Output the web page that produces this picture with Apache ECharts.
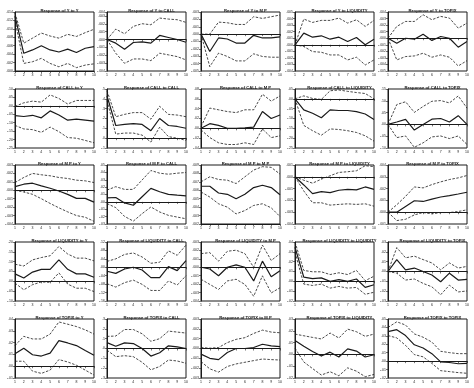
<!DOCTYPE html>
<html><head><meta charset="utf-8">
<script src="https://cdn.jsdelivr.net/npm/echarts@6/dist/echarts.min.js"></script>
<style>html,body{margin:0;padding:0;background:#fff}#c{width:474px;height:388px}</style>
</head><body><div id="c"></div>
<script>
const periods = ['1','2','3','4','5','6','7','8','9','10'];
const varNames = ['Y','CALL','M P','LIQUIDITY','TOPIX'];
const varKeys = ['Y','CALL','MP','LIQ','TOPIX'];

// Y responses
const resp_Y_Y = [0.0130,0.0042,0.0050,0.0060,0.0050,0.0045,0.0052,0.0044,0.0054,0.0058];
const up_Y_Y   = [0.0138,0.0066,0.0078,0.0090,0.0083,0.0078,0.0087,0.0082,0.0091,0.0099];
const lo_Y_Y   = [0.0120,0.0018,0.0022,0.0030,0.0018,0.0010,0.0018,0.0008,0.0014,0.0017];
const resp_Y_CALL = [0,-0.00046,-0.00123,-0.00038,-0.00029,-0.00046,0.00052,0.00026,0,-0.00034];
const up_Y_CALL   = [0,0.00133,0.00073,0.00167,0.00201,0.00188,0.00273,0.00260,0.00252,0.00218];
const lo_Y_CALL   = [0,-0.00174,-0.00302,-0.00247,-0.00247,-0.00268,-0.00174,-0.00195,-0.00217,-0.00259];
const resp_Y_MP = [0,-0.00235,-0.00052,-0.00066,-0.00121,-0.00121,-0.00016,-0.00052,-0.00052,-0.00038];
const up_Y_MP   = [0,0,0.00163,0.00154,0.00131,0.00131,0.00236,0.00213,0.00236,0.00259];
const lo_Y_MP   = [0,-0.00441,-0.00258,-0.00303,-0.00363,-0.00363,-0.00267,-0.00303,-0.00313,-0.00313];
const resp_Y_LIQ = [0,0.00178,0.00116,0.00137,0.00085,0.00116,0.00050,0.00111,0,0.00085];
const up_Y_LIQ   = [0,0.00392,0.00341,0.00372,0.00372,0.00407,0.00331,0.00382,0.00280,0.00372];
const lo_Y_LIQ   = [0,-0.00027,-0.00104,-0.00114,-0.00155,-0.00155,-0.00231,-0.00190,-0.00308,-0.00231];
const resp_Y_TOPIX = [0,-0.00076,0,-0.00015,0.00062,-0.00035,0.00026,0,-0.00137,-0.00050];
const up_Y_TOPIX   = [0,0.00180,0.00256,0.00256,0.00358,0.00282,0.00333,0.00307,0.00154,0.00231];
const lo_Y_TOPIX   = [0,-0.00331,-0.00280,-0.00270,-0.00229,-0.00290,-0.00255,-0.00290,-0.00423,-0.00342];

// CALL responses
const resp_CALL_Y = [-0.058,-0.063,-0.056,-0.071,-0.030,-0.054,-0.085,-0.079,-0.085,-0.091];
const up_CALL_Y   = [-0.003,0.018,0.028,0.022,0.065,0.044,0.011,0.032,0.032,0.032];
const lo_CALL_Y   = [-0.116,-0.137,-0.141,-0.157,-0.126,-0.153,-0.188,-0.192,-0.205,-0.219];
const resp_CALL_CALL = [0.429,0.129,0.140,0.147,0.140,0.076,0.200,0.129,0.119,0.101];
const up_CALL_CALL   = [0.482,0.218,0.242,0.260,0.260,0.193,0.324,0.242,0.235,0.218];
const lo_CALL_CALL   = [0.383,0.041,0.052,0.052,0.031,-0.040,0.112,0.016,-0.001,-0.022];
const resp_CALL_MP = [0,0.0094,0.0059,0.0002,0.0002,0.0009,0.0024,0.0341,0.0200,0.0271];
const up_CALL_MP   = [0.003,0.0412,0.0377,0.0341,0.0320,0.0377,0.0377,0.0694,0.0553,0.0659];
const lo_CALL_MP   = [-0.003,-0.0188,-0.0294,-0.0329,-0.0329,-0.0294,-0.0329,-0.0012,-0.0188,-0.0153];
const resp_CALL_LIQ = [0,-0.056,-0.0735,-0.0965,-0.056,-0.0594,-0.0594,-0.065,-0.077,-0.105];
const up_CALL_LIQ   = [0,0.015,0.002,-0.003,0.041,0.045,0.038,0.032,0.027,0];
const lo_CALL_LIQ   = [0,-0.135,-0.162,-0.185,-0.153,-0.156,-0.162,-0.171,-0.188,-0.215];
const resp_CALL_TOPIX = [0,0.010,0.021,-0.024,0,0.022,0.025,0.010,0.037,0];
const up_CALL_TOPIX   = [0,0.084,0.096,0.051,0.076,0.098,0.101,0.091,0.1205,0.069];
const lo_CALL_TOPIX   = [0,-0.056,-0.049,-0.097,-0.078,-0.053,-0.049,-0.060,-0.049,-0.085];

// MP responses
const resp_MP_Y = [0.00044,0.00072,0.00084,0.00052,0.00024,-0.00008,-0.00048,-0.00096,-0.00096,-0.00140];
const up_MP_Y   = [0.00092,0.00152,0.00200,0.00184,0.00172,0.00152,0.00140,0.00120,0.00112,0.00092];
const lo_MP_Y   = [0,-0.00020,-0.00048,-0.00100,-0.00156,-0.00208,-0.00256,-0.00300,-0.00320,-0.00368];
const resp_MP_CALL = [0.0055,0.0059,-0.0014,-0.0046,0.0069,0.0183,0.0137,0.0101,0.0091,0.0082];
const up_MP_CALL   = [0.0160,0.0206,0.0169,0.0169,0.0297,0.0425,0.0389,0.0375,0.0389,0.0398];
const lo_MP_CALL   = [-0.0023,-0.0078,-0.0197,-0.0261,-0.0160,-0.0069,-0.0137,-0.0183,-0.0206,-0.0229];
const resp_MP_MP = [0.00648,0.00648,0.00568,0.00552,0.00500,0.00552,0.00632,0.00660,0.00632,0.00548];
const up_MP_MP   = [0.00700,0.00760,0.00728,0.00720,0.00680,0.00760,0.00840,0.00880,0.00872,0.00792];
const lo_MP_MP   = [0.00580,0.00520,0.00440,0.00400,0.00320,0.00360,0.00420,0.00440,0.00392,0.00288];
const resp_MP_LIQ = [0,-0.00069,-0.00143,-0.00126,-0.00134,-0.00114,-0.00106,-0.00111,-0.00086,-0.00106];
const up_MP_LIQ   = [0,-0.00029,-0.00054,-0.00020,0.00009,0.00037,0.00043,0.00051,0.00094,0.00086];
const lo_MP_LIQ   = [0,-0.00120,-0.00220,-0.00220,-0.00240,-0.00234,-0.00229,-0.00234,-0.00229,-0.00249];
const resp_MP_TOPIX = [0,0,0.00049,0.00097,0.00091,0.00111,0.00129,0.00140,0.00154,0.00169];
const up_MP_TOPIX   = [0,0.00063,0.00134,0.00214,0.00206,0.00234,0.00257,0.00277,0.00291,0.00311];
const lo_MP_TOPIX   = [0,-0.00071,-0.00060,-0.00023,-0.00003,-0.00014,-0.00003,-0.00003,0.00006,0.00020];

// LIQUIDITY responses
const resp_LIQ_Y = [0.038,0.017,0.047,0.061,0.061,0.109,0.061,0.038,0.038,0.021];
const up_LIQ_Y   = [0.087,0.078,0.109,0.121,0.130,0.177,0.139,0.118,0.118,0.104];
const lo_LIQ_Y   = [-0.009,-0.043,-0.017,-0.003,-0.005,0.043,-0.014,-0.035,-0.035,-0.052];
const resp_LIQ_CALL = [-0.019,-0.029,-0.008,0,-0.013,-0.049,-0.049,0.003,-0.016,0.032];
const up_LIQ_CALL   = [0.028,0.040,0.061,0.068,0.049,0.019,0.024,0.078,0.057,0.105];
const lo_LIQ_CALL   = [-0.078,-0.094,-0.073,-0.061,-0.081,-0.110,-0.110,-0.065,-0.084,-0.040];
const resp_LIQ_MP = [0,-0.0002,-0.0010,0,0.00028,0,-0.00162,0.00073,-0.00113,-0.0004];
const up_LIQ_MP   = [0.00162,0.00174,0.00073,0.0019,0.00203,0.00162,0,0.00263,0.00081,0.00162];
const lo_LIQ_MP   = [-0.00142,-0.00203,-0.00263,-0.00162,-0.00142,-0.00203,-0.00344,-0.00101,-0.00304,-0.00243];
const resp_LIQ_LIQ = [0.0347,0.0042,0.0028,0.0035,0,0.0017,0,0.0024,-0.0062,-0.0035];
const up_LIQ_LIQ   = [0.0399,0.0111,0.0097,0.0097,0.0069,0.0087,0.0069,0.0111,0.0007,0.0052];
const lo_LIQ_LIQ   = [0.0295,-0.0028,-0.0042,-0.0028,-0.0069,-0.0052,-0.0069,-0.0062,-0.0132,-0.0111];
const resp_LIQ_TOPIX = [0,0.0121,0.0017,0.0035,0,-0.0035,-0.0104,-0.0017,-0.0087,-0.008];
const up_LIQ_TOPIX   = [0,0.0243,0.0139,0.0156,0.0121,0.0087,0.0017,0.0087,0.0035,0.0052];
const lo_LIQ_TOPIX   = [0,-0.0017,-0.0087,-0.0076,-0.0121,-0.0156,-0.0236,-0.0139,-0.0208,-0.0198];

// TOPIX responses
const resp_TOPIX_Y = [0.0106,0.0153,0.0097,0.0086,0.0111,0.0217,0.0197,0.0175,0.0133,0.0092];
const up_TOPIX_Y   = [0.0175,0.0253,0.0231,0.0231,0.0272,0.0375,0.0356,0.0336,0.0308,0.0272];
const lo_TOPIX_Y   = [0.0042,0.0042,-0.0042,-0.0061,-0.0033,0.0056,0.0036,0.0008,-0.0033,-0.0075];
const resp_TOPIX_CALL = [0.06,0.023,0.057,0.05,0,-0.077,-0.043,0.027,0.017,0];
const up_TOPIX_CALL   = [0.123,0.127,0.193,0.193,0.15,0.073,0.1,0.177,0.167,0.157];
const lo_TOPIX_CALL   = [-0.017,-0.083,-0.073,-0.083,-0.14,-0.217,-0.183,-0.117,-0.127,-0.15];
const resp_TOPIX_MP = [-0.00057,-0.001,-0.00113,-0.0004,0,0,0.0001,0.00043,0.00027,0.0002];
const up_TOPIX_MP   = [0.0001,0.00003,0.0001,0.0006,0.00093,0.0011,0.00153,0.00187,0.00167,0.0016];
const lo_TOPIX_MP   = [-0.00133,-0.00207,-0.0024,-0.00183,-0.00157,-0.0014,-0.00123,-0.00107,-0.00113,-0.00117];
const resp_TOPIX_LIQ = [0.0117,0.0069,0.0025,-0.0014,0.0019,-0.0022,0.0047,0.0028,-0.0022,-0.0003];
const up_TOPIX_LIQ   = [0.0172,0.0158,0.0144,0.0131,0.0181,0.0139,0.0214,0.0192,0.0153,0.0172];
const lo_TOPIX_LIQ   = [0.0053,-0.0064,-0.012,-0.0175,-0.0147,-0.0181,-0.0114,-0.0142,-0.0189,-0.017];
const resp_TOPIX_TOPIX = [0.035,0.0373,0.0303,0.0194,0.0156,0.0089,-0.0008,-0.0016,-0.0031,-0.0027];
const up_TOPIX_TOPIX   = [0.04,0.0467,0.0428,0.0323,0.0284,0.0226,0.0117,0.0101,0.0089,0.0089];
const lo_TOPIX_TOPIX   = [0.0303,0.0276,0.0187,0.0078,0.0051,-0.0027,-0.0113,-0.0124,-0.0136,-0.0144];

// y-axis tick ranges, rows = responding variable, cols = shock
const yMin = [
  [0, -0.004, -0.005, -0.004, -0.005],
  [-0.25, -0.1, -0.04, -0.25, -0.10],
  [-0.004, -0.03, 0.002, -0.004, -0.001],
  [-0.10, -0.16, -0.004, -0.02, -0.03],
  [-0.01, -0.3, -0.003, -0.02, -0.02]
];
const yMax = [
  [0.014, 0.0035, 0.003, 0.005, 0.004],
  [0.10, 0.5, 0.08, 0.05, 0.15],
  [0.003, 0.05, 0.009, 0.001, 0.004],
  [0.20, 0.12, 0.003, 0.04, 0.03],
  [0.04, 0.3, 0.003, 0.03, 0.05]
];
const yStep = [
  [0.002, 0.001, 0.001, 0.001, 0.001],
  [0.05, 0.1, 0.02, 0.05, 0.05],
  [0.001, 0.01, 0.001, 0.001, 0.001],
  [0.05, 0.04, 0.001, 0.01, 0.01],
  [0.01, 0.1, 0.001, 0.01, 0.01]
];

const seriesLookup = {
  Y_Y:[resp_Y_Y,up_Y_Y,lo_Y_Y], Y_CALL:[resp_Y_CALL,up_Y_CALL,lo_Y_CALL], Y_MP:[resp_Y_MP,up_Y_MP,lo_Y_MP], Y_LIQ:[resp_Y_LIQ,up_Y_LIQ,lo_Y_LIQ], Y_TOPIX:[resp_Y_TOPIX,up_Y_TOPIX,lo_Y_TOPIX],
  CALL_Y:[resp_CALL_Y,up_CALL_Y,lo_CALL_Y], CALL_CALL:[resp_CALL_CALL,up_CALL_CALL,lo_CALL_CALL], CALL_MP:[resp_CALL_MP,up_CALL_MP,lo_CALL_MP], CALL_LIQ:[resp_CALL_LIQ,up_CALL_LIQ,lo_CALL_LIQ], CALL_TOPIX:[resp_CALL_TOPIX,up_CALL_TOPIX,lo_CALL_TOPIX],
  MP_Y:[resp_MP_Y,up_MP_Y,lo_MP_Y], MP_CALL:[resp_MP_CALL,up_MP_CALL,lo_MP_CALL], MP_MP:[resp_MP_MP,up_MP_MP,lo_MP_MP], MP_LIQ:[resp_MP_LIQ,up_MP_LIQ,lo_MP_LIQ], MP_TOPIX:[resp_MP_TOPIX,up_MP_TOPIX,lo_MP_TOPIX],
  LIQ_Y:[resp_LIQ_Y,up_LIQ_Y,lo_LIQ_Y], LIQ_CALL:[resp_LIQ_CALL,up_LIQ_CALL,lo_LIQ_CALL], LIQ_MP:[resp_LIQ_MP,up_LIQ_MP,lo_LIQ_MP], LIQ_LIQ:[resp_LIQ_LIQ,up_LIQ_LIQ,lo_LIQ_LIQ], LIQ_TOPIX:[resp_LIQ_TOPIX,up_LIQ_TOPIX,lo_LIQ_TOPIX],
  TOPIX_Y:[resp_TOPIX_Y,up_TOPIX_Y,lo_TOPIX_Y], TOPIX_CALL:[resp_TOPIX_CALL,up_TOPIX_CALL,lo_TOPIX_CALL], TOPIX_MP:[resp_TOPIX_MP,up_TOPIX_MP,lo_TOPIX_MP], TOPIX_LIQ:[resp_TOPIX_LIQ,up_TOPIX_LIQ,lo_TOPIX_LIQ], TOPIX_TOPIX:[resp_TOPIX_TOPIX,up_TOPIX_TOPIX,lo_TOPIX_TOPIX]
};

const colLeft = [15, 107, 201, 295, 388];
const rowTop = [12, 89, 165, 242, 319];
const boxW = 79, boxH = 59;
const FONT = 'Liberation Sans, Arial, sans-serif';
const ink = '#1a1a1a';

function fmt(v, step) {
  const dec = Math.max(0, Math.ceil(-Math.log10(step) - 1e-9));
  let s = v.toFixed(dec);
  s = s.replace(/^(-?)0\./, '$1.');
  return s;
}

const grid = [], xAxis = [], yAxis = [], series = [], title = [];
let k = 0;
for (let i = 0; i < 5; i++) {
  for (let j = 0; j < 5; j++) {
    const key = varKeys[i] + '_' + varKeys[j];
    const [r, u, l] = seriesLookup[key];
    const step = yStep[i][j];
    grid.push({left: colLeft[j], top: rowTop[i], width: boxW, height: boxH,
      show: true, borderColor: ink, borderWidth: 1, backgroundColor: '#fff'});
    title.push({text: 'Response of ' + varNames[i] + ' to ' + varNames[j],
      left: colLeft[j] + boxW / 2, top: rowTop[i] - 8, textAlign: 'center',
      textStyle: {fontSize: 4.2, fontWeight: 'bold', color: ink, fontFamily: FONT}});
    xAxis.push({type: 'category', gridIndex: k, data: periods, boundaryGap: false,
      axisLine: {show: true, lineStyle: {color: ink, width: 1}},
      axisTick: {show: true, length: 2, inside: false, alignWithLabel: true, lineStyle: {color: ink, width: 0.6}},
      axisLabel: {fontSize: 3.5, margin: 2, color: ink, fontFamily: FONT, interval: 0},
      splitLine: {show: false}});
    yAxis.push({type: 'value', gridIndex: k, min: yMin[i][j], max: yMax[i][j], interval: step,
      axisLine: {show: true, lineStyle: {color: ink, width: 1}},
      axisTick: {show: true, length: 2, lineStyle: {color: ink, width: 0.6}},
      axisLabel: {fontSize: 3.5, margin: 2, color: ink, fontFamily: FONT, formatter: v => fmt(v, step)},
      splitLine: {show: false}});
    const hasZero = yMin[i][j] < 0 && yMax[i][j] > 0;
    series.push({type: 'line', xAxisIndex: k, yAxisIndex: k, data: r, symbol: 'none',
      lineStyle: {color: ink, width: 1.2}, z: 3,
      markLine: hasZero ? {silent: true, symbol: 'none', label: {show: false},
        lineStyle: {color: ink, width: 0.8, type: 'solid'}, data: [{yAxis: 0}]} : undefined});
    series.push({type: 'line', xAxisIndex: k, yAxisIndex: k, data: u, symbol: 'none',
      lineStyle: {color: ink, width: 0.8, type: [2.5, 1.5]}, z: 2});
    series.push({type: 'line', xAxisIndex: k, yAxisIndex: k, data: l, symbol: 'none',
      lineStyle: {color: ink, width: 0.8, type: [2.5, 1.5]}, z: 2});
    k++;
  }
}

const chart = echarts.init(document.getElementById('c'), null, {renderer: 'canvas'});
chart.setOption({backgroundColor: '#fff', animation: false, title, grid, xAxis, yAxis, series});
</script></body></html>
